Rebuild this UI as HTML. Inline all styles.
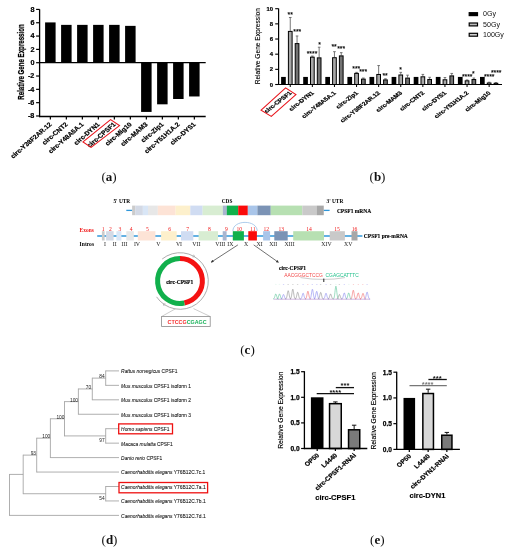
<!DOCTYPE html>
<html><head><meta charset="utf-8"><title>Figure</title>
<style>html,body{margin:0;padding:0;background:#fff;} svg{display:block;}</style></head>
<body><svg width="514" height="550" viewBox="0 0 514 550">
<rect width="514" height="550" fill="#fff"/>
<line x1="39.60" y1="9.30" x2="39.60" y2="117.10" stroke="#000" stroke-width="1.3" />
<line x1="36.10" y1="115.98" x2="39.60" y2="115.98" stroke="#000" stroke-width="1.2" />
<text transform="translate(34.40,118.38) scale(1.15,1)" font-family='"Liberation Sans", Arial, sans-serif' font-size="6.3" font-weight="bold" text-anchor="end" stroke="#000" stroke-width="0.2">-8</text>
<line x1="36.10" y1="102.66" x2="39.60" y2="102.66" stroke="#000" stroke-width="1.2" />
<text transform="translate(34.40,105.06) scale(1.15,1)" font-family='"Liberation Sans", Arial, sans-serif' font-size="6.3" font-weight="bold" text-anchor="end" stroke="#000" stroke-width="0.2">-6</text>
<line x1="36.10" y1="89.34" x2="39.60" y2="89.34" stroke="#000" stroke-width="1.2" />
<text transform="translate(34.40,91.74) scale(1.15,1)" font-family='"Liberation Sans", Arial, sans-serif' font-size="6.3" font-weight="bold" text-anchor="end" stroke="#000" stroke-width="0.2">-4</text>
<line x1="36.10" y1="76.02" x2="39.60" y2="76.02" stroke="#000" stroke-width="1.2" />
<text transform="translate(34.40,78.42) scale(1.15,1)" font-family='"Liberation Sans", Arial, sans-serif' font-size="6.3" font-weight="bold" text-anchor="end" stroke="#000" stroke-width="0.2">-2</text>
<line x1="36.10" y1="62.70" x2="39.60" y2="62.70" stroke="#000" stroke-width="1.2" />
<text transform="translate(34.40,65.10) scale(1.15,1)" font-family='"Liberation Sans", Arial, sans-serif' font-size="6.3" font-weight="bold" text-anchor="end" stroke="#000" stroke-width="0.2">0</text>
<line x1="36.10" y1="49.38" x2="39.60" y2="49.38" stroke="#000" stroke-width="1.2" />
<text transform="translate(34.40,51.78) scale(1.15,1)" font-family='"Liberation Sans", Arial, sans-serif' font-size="6.3" font-weight="bold" text-anchor="end" stroke="#000" stroke-width="0.2">2</text>
<line x1="36.10" y1="36.06" x2="39.60" y2="36.06" stroke="#000" stroke-width="1.2" />
<text transform="translate(34.40,38.46) scale(1.15,1)" font-family='"Liberation Sans", Arial, sans-serif' font-size="6.3" font-weight="bold" text-anchor="end" stroke="#000" stroke-width="0.2">4</text>
<line x1="36.10" y1="22.74" x2="39.60" y2="22.74" stroke="#000" stroke-width="1.2" />
<text transform="translate(34.40,25.14) scale(1.15,1)" font-family='"Liberation Sans", Arial, sans-serif' font-size="6.3" font-weight="bold" text-anchor="end" stroke="#000" stroke-width="0.2">6</text>
<line x1="36.10" y1="9.42" x2="39.60" y2="9.42" stroke="#000" stroke-width="1.2" />
<text transform="translate(34.40,11.82) scale(1.15,1)" font-family='"Liberation Sans", Arial, sans-serif' font-size="6.3" font-weight="bold" text-anchor="end" stroke="#000" stroke-width="0.2">8</text>
<line x1="39.60" y1="62.70" x2="205.70" y2="62.70" stroke="#000" stroke-width="1.3" />
<line x1="39.00" y1="116.50" x2="205.70" y2="116.50" stroke="#000" stroke-width="1.3" />
<rect x="45.10" y="22.41" width="10.50" height="40.29" fill="#000" stroke="none" stroke-width="0" />
<line x1="50.35" y1="116.50" x2="50.35" y2="119.50" stroke="#000" stroke-width="1.2" />
<g transform="translate(52.25,124.80) scale(1.15,1) rotate(-45)"><text x="0" y="0" font-family='"Liberation Sans", Arial, sans-serif' font-size="6.1" font-weight="bold" text-anchor="end" stroke="#000" stroke-width="0.2">circ-Y38F2AR.12</text></g>
<rect x="61.10" y="24.87" width="10.50" height="37.83" fill="#000" stroke="none" stroke-width="0" />
<line x1="66.35" y1="116.50" x2="66.35" y2="119.50" stroke="#000" stroke-width="1.2" />
<g transform="translate(68.25,124.80) scale(1.15,1) rotate(-45)"><text x="0" y="0" font-family='"Liberation Sans", Arial, sans-serif' font-size="6.1" font-weight="bold" text-anchor="end" stroke="#000" stroke-width="0.2">circ-CNT2</text></g>
<rect x="77.10" y="24.87" width="10.50" height="37.83" fill="#000" stroke="none" stroke-width="0" />
<line x1="82.35" y1="116.50" x2="82.35" y2="119.50" stroke="#000" stroke-width="1.2" />
<g transform="translate(84.25,124.80) scale(1.15,1) rotate(-45)"><text x="0" y="0" font-family='"Liberation Sans", Arial, sans-serif' font-size="6.1" font-weight="bold" text-anchor="end" stroke="#000" stroke-width="0.2">circ-Y48A5A.1</text></g>
<rect x="93.10" y="24.87" width="10.50" height="37.83" fill="#000" stroke="none" stroke-width="0" />
<line x1="98.35" y1="116.50" x2="98.35" y2="119.50" stroke="#000" stroke-width="1.2" />
<g transform="translate(100.25,124.80) scale(1.15,1) rotate(-45)"><text x="0" y="0" font-family='"Liberation Sans", Arial, sans-serif' font-size="6.1" font-weight="bold" text-anchor="end" stroke="#000" stroke-width="0.2">circ-DYN1</text></g>
<rect x="109.10" y="24.87" width="10.50" height="37.83" fill="#000" stroke="none" stroke-width="0" />
<line x1="114.35" y1="116.50" x2="114.35" y2="119.50" stroke="#000" stroke-width="1.2" />
<g transform="translate(116.25,124.80) scale(1.15,1) rotate(-45)"><text x="0" y="0" font-family='"Liberation Sans", Arial, sans-serif' font-size="6.1" font-weight="bold" text-anchor="end" stroke="#000" stroke-width="0.2">circ-CPSF1</text></g>
<rect x="125.10" y="25.87" width="10.50" height="36.83" fill="#000" stroke="none" stroke-width="0" />
<line x1="130.35" y1="116.50" x2="130.35" y2="119.50" stroke="#000" stroke-width="1.2" />
<g transform="translate(132.25,124.80) scale(1.15,1) rotate(-45)"><text x="0" y="0" font-family='"Liberation Sans", Arial, sans-serif' font-size="6.1" font-weight="bold" text-anchor="end" stroke="#000" stroke-width="0.2">circ-Mig10</text></g>
<rect x="141.10" y="62.70" width="10.50" height="49.22" fill="#000" stroke="none" stroke-width="0" />
<line x1="146.35" y1="116.50" x2="146.35" y2="119.50" stroke="#000" stroke-width="1.2" />
<g transform="translate(148.25,124.80) scale(1.15,1) rotate(-45)"><text x="0" y="0" font-family='"Liberation Sans", Arial, sans-serif' font-size="6.1" font-weight="bold" text-anchor="end" stroke="#000" stroke-width="0.2">circ-MAM3</text></g>
<rect x="157.10" y="62.70" width="10.50" height="41.62" fill="#000" stroke="none" stroke-width="0" />
<line x1="162.35" y1="116.50" x2="162.35" y2="119.50" stroke="#000" stroke-width="1.2" />
<g transform="translate(164.25,124.80) scale(1.15,1) rotate(-45)"><text x="0" y="0" font-family='"Liberation Sans", Arial, sans-serif' font-size="6.1" font-weight="bold" text-anchor="end" stroke="#000" stroke-width="0.2">circ-Zip1</text></g>
<rect x="173.10" y="62.70" width="10.50" height="36.30" fill="#000" stroke="none" stroke-width="0" />
<line x1="178.35" y1="116.50" x2="178.35" y2="119.50" stroke="#000" stroke-width="1.2" />
<g transform="translate(180.25,124.80) scale(1.15,1) rotate(-45)"><text x="0" y="0" font-family='"Liberation Sans", Arial, sans-serif' font-size="6.1" font-weight="bold" text-anchor="end" stroke="#000" stroke-width="0.2">circ-Y51H1A.2</text></g>
<rect x="189.10" y="62.70" width="10.50" height="33.77" fill="#000" stroke="none" stroke-width="0" />
<line x1="194.35" y1="116.50" x2="194.35" y2="119.50" stroke="#000" stroke-width="1.2" />
<g transform="translate(196.25,124.80) scale(1.15,1) rotate(-45)"><text x="0" y="0" font-family='"Liberation Sans", Arial, sans-serif' font-size="6.1" font-weight="bold" text-anchor="end" stroke="#000" stroke-width="0.2">circ-DYS1</text></g>
<polygon points="83,141.9 110.6,119.6 119.5,125.6 91.1,147.4" fill="none" stroke="#e8141b" stroke-width="1.1"/>
<text transform="translate(24.3,62) scale(1.35,1) rotate(-90)" font-family='"Liberation Sans", Arial, sans-serif' font-size="6.15" font-weight="bold" text-anchor="middle" stroke="#000" stroke-width="0.2">Relative Gene Expression</text>
<text x="109.00" y="181.30" font-family='"Liberation Serif", "Times New Roman", serif' font-size="13" text-anchor="middle" fill="#111">(<tspan font-weight="bold">a</tspan>)</text>
<line x1="278.60" y1="8.60" x2="278.60" y2="85.10" stroke="#000" stroke-width="1.2" />
<line x1="275.20" y1="84.50" x2="278.60" y2="84.50" stroke="#000" stroke-width="1.1" />
<text x="273.00" y="86.60" font-family='"Liberation Sans", Arial, sans-serif' font-size="5.9" font-weight="bold" font-style="normal" fill="#000" text-anchor="end" stroke="#000" stroke-width="0.2" >0</text>
<line x1="275.20" y1="69.34" x2="278.60" y2="69.34" stroke="#000" stroke-width="1.1" />
<text x="273.00" y="71.44" font-family='"Liberation Sans", Arial, sans-serif' font-size="5.9" font-weight="bold" font-style="normal" fill="#000" text-anchor="end" stroke="#000" stroke-width="0.2" >2</text>
<line x1="275.20" y1="54.18" x2="278.60" y2="54.18" stroke="#000" stroke-width="1.1" />
<text x="273.00" y="56.28" font-family='"Liberation Sans", Arial, sans-serif' font-size="5.9" font-weight="bold" font-style="normal" fill="#000" text-anchor="end" stroke="#000" stroke-width="0.2" >4</text>
<line x1="275.20" y1="39.02" x2="278.60" y2="39.02" stroke="#000" stroke-width="1.1" />
<text x="273.00" y="41.12" font-family='"Liberation Sans", Arial, sans-serif' font-size="5.9" font-weight="bold" font-style="normal" fill="#000" text-anchor="end" stroke="#000" stroke-width="0.2" >6</text>
<line x1="275.20" y1="23.86" x2="278.60" y2="23.86" stroke="#000" stroke-width="1.1" />
<text x="273.00" y="25.96" font-family='"Liberation Sans", Arial, sans-serif' font-size="5.9" font-weight="bold" font-style="normal" fill="#000" text-anchor="end" stroke="#000" stroke-width="0.2" >8</text>
<line x1="275.20" y1="8.70" x2="278.60" y2="8.70" stroke="#000" stroke-width="1.1" />
<text x="273.00" y="10.80" font-family='"Liberation Sans", Arial, sans-serif' font-size="5.9" font-weight="bold" font-style="normal" fill="#000" text-anchor="end" stroke="#000" stroke-width="0.2" >10</text>
<line x1="278.00" y1="84.50" x2="502.00" y2="84.50" stroke="#000" stroke-width="1.2" />
<rect x="281.10" y="76.92" width="4.70" height="7.58" fill="#000" stroke="none" stroke-width="0" />
<line x1="290.25" y1="30.91" x2="290.25" y2="17.49" stroke="#666" stroke-width="0.9" />
<line x1="288.95" y1="17.49" x2="291.55" y2="17.49" stroke="#666" stroke-width="0.9" />
<rect x="288.40" y="31.41" width="3.70" height="53.09" fill="#a8a8a8" stroke="#000" stroke-width="1.0" />
<line x1="297.05" y1="43.11" x2="297.05" y2="35.99" stroke="#666" stroke-width="0.9" />
<line x1="295.75" y1="35.99" x2="298.35" y2="35.99" stroke="#666" stroke-width="0.9" />
<rect x="295.20" y="43.61" width="3.70" height="40.89" fill="#737373" stroke="#000" stroke-width="1.0" />
<line x1="290.25" y1="84.50" x2="290.25" y2="87.00" stroke="#000" stroke-width="1.0" />
<g transform="translate(292.25,93.30) scale(1.28,1) rotate(-45)"><text x="0" y="0" font-family='"Liberation Sans", Arial, sans-serif' font-size="5.3" font-weight="bold" text-anchor="end" stroke="#000" stroke-width="0.2">circ-CPSF1</text></g>
<rect x="303.20" y="76.92" width="4.70" height="7.58" fill="#000" stroke="none" stroke-width="0" />
<line x1="312.35" y1="56.68" x2="312.35" y2="56.08" stroke="#666" stroke-width="0.9" />
<line x1="311.05" y1="56.08" x2="313.65" y2="56.08" stroke="#666" stroke-width="0.9" />
<rect x="310.50" y="57.18" width="3.70" height="27.32" fill="#a8a8a8" stroke="#000" stroke-width="1.0" />
<line x1="319.15" y1="57.36" x2="319.15" y2="47.21" stroke="#666" stroke-width="0.9" />
<line x1="317.85" y1="47.21" x2="320.45" y2="47.21" stroke="#666" stroke-width="0.9" />
<rect x="317.30" y="57.86" width="3.70" height="26.64" fill="#737373" stroke="#000" stroke-width="1.0" />
<line x1="312.35" y1="84.50" x2="312.35" y2="87.00" stroke="#000" stroke-width="1.0" />
<g transform="translate(314.35,93.30) scale(1.28,1) rotate(-45)"><text x="0" y="0" font-family='"Liberation Sans", Arial, sans-serif' font-size="5.3" font-weight="bold" text-anchor="end" stroke="#000" stroke-width="0.2">circ-DYN1</text></g>
<rect x="325.30" y="76.92" width="4.70" height="7.58" fill="#000" stroke="none" stroke-width="0" />
<line x1="334.45" y1="57.21" x2="334.45" y2="51.68" stroke="#666" stroke-width="0.9" />
<line x1="333.15" y1="51.68" x2="335.75" y2="51.68" stroke="#666" stroke-width="0.9" />
<rect x="332.60" y="57.71" width="3.70" height="26.79" fill="#a8a8a8" stroke="#000" stroke-width="1.0" />
<line x1="341.25" y1="55.39" x2="341.25" y2="52.66" stroke="#666" stroke-width="0.9" />
<line x1="339.95" y1="52.66" x2="342.55" y2="52.66" stroke="#666" stroke-width="0.9" />
<rect x="339.40" y="55.89" width="3.70" height="28.61" fill="#737373" stroke="#000" stroke-width="1.0" />
<line x1="334.45" y1="84.50" x2="334.45" y2="87.00" stroke="#000" stroke-width="1.0" />
<g transform="translate(336.45,93.30) scale(1.28,1) rotate(-45)"><text x="0" y="0" font-family='"Liberation Sans", Arial, sans-serif' font-size="5.3" font-weight="bold" text-anchor="end" stroke="#000" stroke-width="0.2">circ-Y48A5A.1</text></g>
<rect x="347.40" y="76.92" width="4.70" height="7.58" fill="#000" stroke="none" stroke-width="0" />
<line x1="356.55" y1="72.90" x2="356.55" y2="72.37" stroke="#666" stroke-width="0.9" />
<line x1="355.25" y1="72.37" x2="357.85" y2="72.37" stroke="#666" stroke-width="0.9" />
<rect x="354.70" y="73.40" width="3.70" height="11.10" fill="#a8a8a8" stroke="#000" stroke-width="1.0" />
<line x1="363.35" y1="78.66" x2="363.35" y2="78.06" stroke="#666" stroke-width="0.9" />
<line x1="362.05" y1="78.06" x2="364.65" y2="78.06" stroke="#666" stroke-width="0.9" />
<rect x="361.50" y="79.16" width="3.70" height="5.34" fill="#737373" stroke="#000" stroke-width="1.0" />
<line x1="356.55" y1="84.50" x2="356.55" y2="87.00" stroke="#000" stroke-width="1.0" />
<g transform="translate(358.55,93.30) scale(1.28,1) rotate(-45)"><text x="0" y="0" font-family='"Liberation Sans", Arial, sans-serif' font-size="5.3" font-weight="bold" text-anchor="end" stroke="#000" stroke-width="0.2">circ-Zip1</text></g>
<rect x="369.50" y="76.92" width="4.70" height="7.58" fill="#000" stroke="none" stroke-width="0" />
<line x1="378.65" y1="73.96" x2="378.65" y2="65.55" stroke="#666" stroke-width="0.9" />
<line x1="377.35" y1="65.55" x2="379.95" y2="65.55" stroke="#666" stroke-width="0.9" />
<rect x="376.80" y="74.46" width="3.70" height="10.04" fill="#a8a8a8" stroke="#000" stroke-width="1.0" />
<line x1="385.45" y1="79.42" x2="385.45" y2="78.81" stroke="#666" stroke-width="0.9" />
<line x1="384.15" y1="78.81" x2="386.75" y2="78.81" stroke="#666" stroke-width="0.9" />
<rect x="383.60" y="79.92" width="3.70" height="4.58" fill="#737373" stroke="#000" stroke-width="1.0" />
<line x1="378.65" y1="84.50" x2="378.65" y2="87.00" stroke="#000" stroke-width="1.0" />
<g transform="translate(380.65,93.30) scale(1.28,1) rotate(-45)"><text x="0" y="0" font-family='"Liberation Sans", Arial, sans-serif' font-size="5.3" font-weight="bold" text-anchor="end" stroke="#000" stroke-width="0.2">circ-Y38F2AR.12</text></g>
<rect x="391.60" y="76.92" width="4.70" height="7.58" fill="#000" stroke="none" stroke-width="0" />
<line x1="400.75" y1="74.49" x2="400.75" y2="72.37" stroke="#666" stroke-width="0.9" />
<line x1="399.45" y1="72.37" x2="402.05" y2="72.37" stroke="#666" stroke-width="0.9" />
<rect x="398.90" y="74.99" width="3.70" height="9.51" fill="#a8a8a8" stroke="#000" stroke-width="1.0" />
<line x1="407.55" y1="77.60" x2="407.55" y2="75.18" stroke="#666" stroke-width="0.9" />
<line x1="406.25" y1="75.18" x2="408.85" y2="75.18" stroke="#666" stroke-width="0.9" />
<rect x="405.70" y="78.10" width="3.70" height="6.40" fill="#737373" stroke="#000" stroke-width="1.0" />
<line x1="400.75" y1="84.50" x2="400.75" y2="87.00" stroke="#000" stroke-width="1.0" />
<g transform="translate(402.75,93.30) scale(1.28,1) rotate(-45)"><text x="0" y="0" font-family='"Liberation Sans", Arial, sans-serif' font-size="5.3" font-weight="bold" text-anchor="end" stroke="#000" stroke-width="0.2">circ-MAM3</text></g>
<rect x="413.70" y="76.92" width="4.70" height="7.58" fill="#000" stroke="none" stroke-width="0" />
<line x1="422.85" y1="76.31" x2="422.85" y2="74.42" stroke="#666" stroke-width="0.9" />
<line x1="421.55" y1="74.42" x2="424.15" y2="74.42" stroke="#666" stroke-width="0.9" />
<rect x="421.00" y="76.81" width="3.70" height="7.69" fill="#a8a8a8" stroke="#000" stroke-width="1.0" />
<line x1="429.65" y1="78.97" x2="429.65" y2="77.30" stroke="#666" stroke-width="0.9" />
<line x1="428.35" y1="77.30" x2="430.95" y2="77.30" stroke="#666" stroke-width="0.9" />
<rect x="427.80" y="79.47" width="3.70" height="5.03" fill="#737373" stroke="#000" stroke-width="1.0" />
<line x1="422.85" y1="84.50" x2="422.85" y2="87.00" stroke="#000" stroke-width="1.0" />
<g transform="translate(424.85,93.30) scale(1.28,1) rotate(-45)"><text x="0" y="0" font-family='"Liberation Sans", Arial, sans-serif' font-size="5.3" font-weight="bold" text-anchor="end" stroke="#000" stroke-width="0.2">circ-CNT2</text></g>
<rect x="435.80" y="76.92" width="4.70" height="7.58" fill="#000" stroke="none" stroke-width="0" />
<line x1="444.95" y1="79.27" x2="444.95" y2="77.53" stroke="#666" stroke-width="0.9" />
<line x1="443.65" y1="77.53" x2="446.25" y2="77.53" stroke="#666" stroke-width="0.9" />
<rect x="443.10" y="79.77" width="3.70" height="4.73" fill="#a8a8a8" stroke="#000" stroke-width="1.0" />
<line x1="451.75" y1="75.40" x2="451.75" y2="73.43" stroke="#666" stroke-width="0.9" />
<line x1="450.45" y1="73.43" x2="453.05" y2="73.43" stroke="#666" stroke-width="0.9" />
<rect x="449.90" y="75.90" width="3.70" height="8.60" fill="#737373" stroke="#000" stroke-width="1.0" />
<line x1="444.95" y1="84.50" x2="444.95" y2="87.00" stroke="#000" stroke-width="1.0" />
<g transform="translate(446.95,93.30) scale(1.28,1) rotate(-45)"><text x="0" y="0" font-family='"Liberation Sans", Arial, sans-serif' font-size="5.3" font-weight="bold" text-anchor="end" stroke="#000" stroke-width="0.2">circ-DYS1</text></g>
<rect x="457.90" y="76.92" width="4.70" height="7.58" fill="#000" stroke="none" stroke-width="0" />
<line x1="467.05" y1="80.33" x2="467.05" y2="79.95" stroke="#666" stroke-width="0.9" />
<line x1="465.75" y1="79.95" x2="468.35" y2="79.95" stroke="#666" stroke-width="0.9" />
<rect x="465.20" y="80.83" width="3.70" height="3.67" fill="#a8a8a8" stroke="#000" stroke-width="1.0" />
<line x1="473.85" y1="79.04" x2="473.85" y2="78.06" stroke="#666" stroke-width="0.9" />
<line x1="472.55" y1="78.06" x2="475.15" y2="78.06" stroke="#666" stroke-width="0.9" />
<rect x="472.00" y="79.54" width="3.70" height="4.96" fill="#737373" stroke="#000" stroke-width="1.0" />
<line x1="467.05" y1="84.50" x2="467.05" y2="87.00" stroke="#000" stroke-width="1.0" />
<g transform="translate(469.05,93.30) scale(1.28,1) rotate(-45)"><text x="0" y="0" font-family='"Liberation Sans", Arial, sans-serif' font-size="5.3" font-weight="bold" text-anchor="end" stroke="#000" stroke-width="0.2">circ-Y51H1A.2</text></g>
<rect x="480.00" y="76.92" width="4.70" height="7.58" fill="#000" stroke="none" stroke-width="0" />
<line x1="489.15" y1="82.53" x2="489.15" y2="82.23" stroke="#666" stroke-width="0.9" />
<line x1="487.85" y1="82.23" x2="490.45" y2="82.23" stroke="#666" stroke-width="0.9" />
<rect x="487.30" y="83.03" width="3.70" height="1.47" fill="#a8a8a8" stroke="#000" stroke-width="1.0" />
<line x1="495.95" y1="82.83" x2="495.95" y2="82.53" stroke="#666" stroke-width="0.9" />
<line x1="494.65" y1="82.53" x2="497.25" y2="82.53" stroke="#666" stroke-width="0.9" />
<rect x="494.10" y="83.33" width="3.70" height="1.17" fill="#737373" stroke="#000" stroke-width="1.0" />
<line x1="489.15" y1="84.50" x2="489.15" y2="87.00" stroke="#000" stroke-width="1.0" />
<g transform="translate(491.15,93.30) scale(1.28,1) rotate(-45)"><text x="0" y="0" font-family='"Liberation Sans", Arial, sans-serif' font-size="5.3" font-weight="bold" text-anchor="end" stroke="#000" stroke-width="0.2">circ-Mig10</text></g>
<polygon points="261.1,110.1 285.6,87.9 295.9,94.6 271.3,116.4" fill="none" stroke="#e8141b" stroke-width="1.1"/>
<text transform="translate(259.9,46.2) rotate(-90)" font-family='"Liberation Sans", Arial, sans-serif' font-size="6.6" text-anchor="middle" stroke="#000" stroke-width="0.12">Relative Gene Expression</text>
<text x="290.20" y="17.40" font-family='"Liberation Sans", Arial, sans-serif' font-size="6.8" font-weight="normal" font-style="normal" fill="#000" text-anchor="middle" stroke="#000" stroke-width="0.15" >**</text>
<text x="297.30" y="34.40" font-family='"Liberation Sans", Arial, sans-serif' font-size="6.8" font-weight="normal" font-style="normal" fill="#000" text-anchor="middle" stroke="#000" stroke-width="0.15" >***</text>
<text x="312.00" y="56.20" font-family='"Liberation Sans", Arial, sans-serif' font-size="6.8" font-weight="normal" font-style="normal" fill="#000" text-anchor="middle" stroke="#000" stroke-width="0.15" >****</text>
<text x="319.50" y="47.00" font-family='"Liberation Sans", Arial, sans-serif' font-size="6.8" font-weight="normal" font-style="normal" fill="#000" text-anchor="middle" stroke="#000" stroke-width="0.15" >*</text>
<text x="334.10" y="48.90" font-family='"Liberation Sans", Arial, sans-serif' font-size="6.8" font-weight="normal" font-style="normal" fill="#000" text-anchor="middle" stroke="#000" stroke-width="0.15" >**</text>
<text x="341.10" y="51.10" font-family='"Liberation Sans", Arial, sans-serif' font-size="6.8" font-weight="normal" font-style="normal" fill="#000" text-anchor="middle" stroke="#000" stroke-width="0.15" >***</text>
<text x="356.30" y="71.30" font-family='"Liberation Sans", Arial, sans-serif' font-size="6.8" font-weight="normal" font-style="normal" fill="#000" text-anchor="middle" stroke="#000" stroke-width="0.15" >***</text>
<text x="363.10" y="73.60" font-family='"Liberation Sans", Arial, sans-serif' font-size="6.8" font-weight="normal" font-style="normal" fill="#000" text-anchor="middle" stroke="#000" stroke-width="0.15" >***</text>
<text x="385.10" y="78.00" font-family='"Liberation Sans", Arial, sans-serif' font-size="6.8" font-weight="normal" font-style="normal" fill="#000" text-anchor="middle" stroke="#000" stroke-width="0.15" >**</text>
<text x="400.70" y="72.20" font-family='"Liberation Sans", Arial, sans-serif' font-size="6.8" font-weight="normal" font-style="normal" fill="#000" text-anchor="middle" stroke="#000" stroke-width="0.15" >*</text>
<text x="467.20" y="78.90" font-family='"Liberation Sans", Arial, sans-serif' font-size="6.8" font-weight="normal" font-style="normal" fill="#000" text-anchor="middle" stroke="#000" stroke-width="0.15" >****</text>
<text x="473.30" y="76.00" font-family='"Liberation Sans", Arial, sans-serif' font-size="6.8" font-weight="normal" font-style="normal" fill="#000" text-anchor="middle" stroke="#000" stroke-width="0.15" >*</text>
<text x="489.20" y="78.60" font-family='"Liberation Sans", Arial, sans-serif' font-size="6.8" font-weight="normal" font-style="normal" fill="#000" text-anchor="middle" stroke="#000" stroke-width="0.15" >****</text>
<text x="496.20" y="75.30" font-family='"Liberation Sans", Arial, sans-serif' font-size="6.8" font-weight="normal" font-style="normal" fill="#000" text-anchor="middle" stroke="#000" stroke-width="0.15" >****</text>
<rect x="469.20" y="12.70" width="8.30" height="2.90" fill="#000" stroke="#000" stroke-width="1.2" />
<text x="483.00" y="16.20" font-family='"Liberation Sans", Arial, sans-serif' font-size="7.1" font-weight="normal" font-style="normal" fill="#111" text-anchor="start" >0Gy</text>
<rect x="469.20" y="23.00" width="8.30" height="2.90" fill="#bbbbbb" stroke="#000" stroke-width="1.2" />
<text x="483.00" y="26.50" font-family='"Liberation Sans", Arial, sans-serif' font-size="7.1" font-weight="normal" font-style="normal" fill="#111" text-anchor="start" >50Gy</text>
<rect x="469.20" y="33.30" width="8.30" height="2.90" fill="#d0d0d0" stroke="#000" stroke-width="1.2" />
<text x="483.00" y="36.80" font-family='"Liberation Sans", Arial, sans-serif' font-size="7.1" font-weight="normal" font-style="normal" fill="#111" text-anchor="start" >100Gy</text>
<text x="377.50" y="181.30" font-family='"Liberation Serif", "Times New Roman", serif' font-size="13" text-anchor="middle" fill="#111">(<tspan font-weight="bold">b</tspan>)</text>
<text x="113.40" y="202.90" font-family='"Liberation Serif", "Times New Roman", serif' font-size="5.35" font-weight="bold" font-style="normal" fill="#000" text-anchor="start" >5' UTR</text>
<text x="221.80" y="202.90" font-family='"Liberation Serif", "Times New Roman", serif' font-size="5.3" font-weight="bold" font-style="normal" fill="#000" text-anchor="start" >CDS</text>
<text x="326.50" y="202.90" font-family='"Liberation Serif", "Times New Roman", serif' font-size="5.35" font-weight="bold" font-style="normal" fill="#000" text-anchor="start" >3' UTR</text>
<text x="336.90" y="212.60" font-family='"Liberation Serif", "Times New Roman", serif' font-size="5.5" font-weight="bold" font-style="normal" fill="#000" text-anchor="start" stroke="#000" stroke-width="0.12" >CPSF1 mRNA</text>
<line x1="126.30" y1="210.40" x2="132.20" y2="210.40" stroke="#2f97da" stroke-width="1.3" />
<line x1="323.60" y1="210.40" x2="329.60" y2="210.40" stroke="#2f97da" stroke-width="1.3" />
<rect x="132.10" y="205.60" width="3.25" height="9.60" fill="#cbcbcb" stroke="none" stroke-width="0" />
<rect x="135.30" y="205.60" width="7.55" height="9.60" fill="#d3d9e5" stroke="none" stroke-width="0" />
<rect x="142.80" y="205.60" width="5.25" height="9.60" fill="#d9e6f6" stroke="none" stroke-width="0" />
<rect x="148.00" y="205.60" width="9.85" height="9.60" fill="#e7e7e7" stroke="none" stroke-width="0" />
<rect x="157.80" y="205.60" width="17.75" height="9.60" fill="#fde3d6" stroke="none" stroke-width="0" />
<rect x="175.50" y="205.60" width="14.85" height="9.60" fill="#fdf0cc" stroke="none" stroke-width="0" />
<rect x="190.30" y="205.60" width="12.35" height="9.60" fill="#d0dcf2" stroke="none" stroke-width="0" />
<rect x="202.60" y="205.60" width="20.35" height="9.60" fill="#d8edd2" stroke="none" stroke-width="0" />
<rect x="222.90" y="205.60" width="3.95" height="9.60" fill="#a9b5cf" stroke="none" stroke-width="0" />
<rect x="226.80" y="205.60" width="11.45" height="9.60" fill="#12b04b" stroke="none" stroke-width="0" />
<rect x="238.20" y="205.60" width="9.65" height="9.60" fill="#fa0a0a" stroke="none" stroke-width="0" />
<rect x="247.80" y="205.60" width="9.65" height="9.60" fill="#a9c5e9" stroke="none" stroke-width="0" />
<rect x="257.40" y="205.60" width="13.35" height="9.60" fill="#7b93b5" stroke="none" stroke-width="0" />
<rect x="270.70" y="205.60" width="31.65" height="9.60" fill="#b7e0b2" stroke="none" stroke-width="0" />
<rect x="302.30" y="205.60" width="14.55" height="9.60" fill="#c9c9c9" stroke="none" stroke-width="0" />
<rect x="316.80" y="205.60" width="6.95" height="9.60" fill="#a7a7a7" stroke="none" stroke-width="0" />
<text x="79.60" y="231.60" font-family='"Liberation Serif", "Times New Roman", serif' font-size="6.0" font-weight="bold" font-style="normal" fill="#f01818" text-anchor="start" textLength="14.2" lengthAdjust="spacingAndGlyphs">Exons</text>
<text x="79.60" y="246.10" font-family='"Liberation Serif", "Times New Roman", serif' font-size="6.0" font-weight="bold" font-style="normal" fill="#000" text-anchor="start" textLength="14.5" lengthAdjust="spacingAndGlyphs">Intros</text>
<line x1="97.20" y1="236.00" x2="362.40" y2="236.00" stroke="#2f97da" stroke-width="1.7" />
<rect x="101.90" y="231.20" width="2.70" height="9.30" fill="#cbcbcb" stroke="none" stroke-width="0" />
<rect x="106.10" y="231.20" width="7.50" height="9.30" fill="#d3d9e5" stroke="none" stroke-width="0" />
<rect x="116.40" y="231.20" width="5.00" height="9.30" fill="#d9e6f6" stroke="none" stroke-width="0" />
<rect x="126.30" y="231.20" width="7.50" height="9.30" fill="#e7e7e7" stroke="none" stroke-width="0" />
<rect x="137.80" y="231.20" width="17.60" height="9.30" fill="#fde3d6" stroke="none" stroke-width="0" />
<rect x="161.10" y="231.20" width="15.60" height="9.30" fill="#fdf0cc" stroke="none" stroke-width="0" />
<rect x="181.00" y="231.20" width="12.30" height="9.30" fill="#d0dcf2" stroke="none" stroke-width="0" />
<rect x="198.60" y="231.20" width="19.40" height="9.30" fill="#d8edd2" stroke="none" stroke-width="0" />
<rect x="222.70" y="231.20" width="3.90" height="9.30" fill="#a9b5cf" stroke="none" stroke-width="0" />
<rect x="232.80" y="231.20" width="11.10" height="9.30" fill="#12b04b" stroke="none" stroke-width="0" />
<rect x="248.30" y="231.20" width="8.60" height="9.30" fill="#fa0a0a" stroke="none" stroke-width="0" />
<rect x="263.10" y="231.20" width="7.00" height="9.30" fill="#a9c5e9" stroke="none" stroke-width="0" />
<rect x="274.30" y="231.20" width="13.40" height="9.30" fill="#7b93b5" stroke="none" stroke-width="0" />
<rect x="293.20" y="231.20" width="30.80" height="9.30" fill="#b7e0b2" stroke="none" stroke-width="0" />
<rect x="329.70" y="231.20" width="15.20" height="9.30" fill="#c9c9c9" stroke="none" stroke-width="0" />
<rect x="351.50" y="231.20" width="6.00" height="9.30" fill="#a7a7a7" stroke="none" stroke-width="0" />
<text x="103.20" y="231.00" font-family='"Liberation Serif", "Times New Roman", serif' font-size="5.6" font-weight="normal" font-style="normal" fill="#f01818" text-anchor="middle" >1</text>
<text x="110.50" y="231.00" font-family='"Liberation Serif", "Times New Roman", serif' font-size="5.6" font-weight="normal" font-style="normal" fill="#f01818" text-anchor="middle" >2</text>
<text x="119.80" y="231.00" font-family='"Liberation Serif", "Times New Roman", serif' font-size="5.6" font-weight="normal" font-style="normal" fill="#f01818" text-anchor="middle" >3</text>
<text x="131.20" y="231.00" font-family='"Liberation Serif", "Times New Roman", serif' font-size="5.6" font-weight="normal" font-style="normal" fill="#f01818" text-anchor="middle" >4</text>
<text x="147.40" y="231.00" font-family='"Liberation Serif", "Times New Roman", serif' font-size="5.6" font-weight="normal" font-style="normal" fill="#f01818" text-anchor="middle" >5</text>
<text x="169.70" y="231.00" font-family='"Liberation Serif", "Times New Roman", serif' font-size="5.6" font-weight="normal" font-style="normal" fill="#f01818" text-anchor="middle" >6</text>
<text x="187.60" y="231.00" font-family='"Liberation Serif", "Times New Roman", serif' font-size="5.6" font-weight="normal" font-style="normal" fill="#f01818" text-anchor="middle" >7</text>
<text x="209.50" y="231.00" font-family='"Liberation Serif", "Times New Roman", serif' font-size="5.6" font-weight="normal" font-style="normal" fill="#f01818" text-anchor="middle" >8</text>
<text x="226.30" y="231.00" font-family='"Liberation Serif", "Times New Roman", serif' font-size="5.6" font-weight="normal" font-style="normal" fill="#f01818" text-anchor="middle" >9</text>
<text x="239.20" y="231.00" font-family='"Liberation Serif", "Times New Roman", serif' font-size="5.6" font-weight="normal" font-style="normal" fill="#f01818" text-anchor="middle" >10</text>
<text x="252.80" y="231.00" font-family='"Liberation Serif", "Times New Roman", serif' font-size="5.6" font-weight="normal" font-style="normal" fill="#f01818" text-anchor="middle" >11</text>
<text x="266.30" y="231.00" font-family='"Liberation Serif", "Times New Roman", serif' font-size="5.6" font-weight="normal" font-style="normal" fill="#f01818" text-anchor="middle" >12</text>
<text x="281.30" y="231.00" font-family='"Liberation Serif", "Times New Roman", serif' font-size="5.6" font-weight="normal" font-style="normal" fill="#f01818" text-anchor="middle" >13</text>
<text x="309.00" y="231.00" font-family='"Liberation Serif", "Times New Roman", serif' font-size="5.6" font-weight="normal" font-style="normal" fill="#f01818" text-anchor="middle" >14</text>
<text x="337.00" y="231.00" font-family='"Liberation Serif", "Times New Roman", serif' font-size="5.6" font-weight="normal" font-style="normal" fill="#f01818" text-anchor="middle" >15</text>
<text x="354.60" y="231.00" font-family='"Liberation Serif", "Times New Roman", serif' font-size="5.6" font-weight="normal" font-style="normal" fill="#f01818" text-anchor="middle" >16</text>
<text x="105.00" y="246.30" font-family='"Liberation Serif", "Times New Roman", serif' font-size="5.8" font-weight="normal" font-style="normal" fill="#222" text-anchor="middle" >I</text>
<text x="114.70" y="246.30" font-family='"Liberation Serif", "Times New Roman", serif' font-size="5.8" font-weight="normal" font-style="normal" fill="#222" text-anchor="middle" >II</text>
<text x="124.50" y="246.30" font-family='"Liberation Serif", "Times New Roman", serif' font-size="5.8" font-weight="normal" font-style="normal" fill="#222" text-anchor="middle" >III</text>
<text x="137.00" y="246.30" font-family='"Liberation Serif", "Times New Roman", serif' font-size="5.8" font-weight="normal" font-style="normal" fill="#222" text-anchor="middle" >IV</text>
<text x="158.30" y="246.30" font-family='"Liberation Serif", "Times New Roman", serif' font-size="5.8" font-weight="normal" font-style="normal" fill="#222" text-anchor="middle" >V</text>
<text x="179.00" y="246.30" font-family='"Liberation Serif", "Times New Roman", serif' font-size="5.8" font-weight="normal" font-style="normal" fill="#222" text-anchor="middle" >VI</text>
<text x="196.40" y="246.30" font-family='"Liberation Serif", "Times New Roman", serif' font-size="5.8" font-weight="normal" font-style="normal" fill="#222" text-anchor="middle" >VII</text>
<text x="220.30" y="246.30" font-family='"Liberation Serif", "Times New Roman", serif' font-size="5.8" font-weight="normal" font-style="normal" fill="#222" text-anchor="middle" >VIII</text>
<text x="230.40" y="246.30" font-family='"Liberation Serif", "Times New Roman", serif' font-size="5.8" font-weight="normal" font-style="normal" fill="#222" text-anchor="middle" >IX</text>
<text x="246.20" y="246.30" font-family='"Liberation Serif", "Times New Roman", serif' font-size="5.8" font-weight="normal" font-style="normal" fill="#222" text-anchor="middle" >X</text>
<text x="259.60" y="246.30" font-family='"Liberation Serif", "Times New Roman", serif' font-size="5.8" font-weight="normal" font-style="normal" fill="#222" text-anchor="middle" >XI</text>
<text x="273.20" y="246.30" font-family='"Liberation Serif", "Times New Roman", serif' font-size="5.8" font-weight="normal" font-style="normal" fill="#222" text-anchor="middle" >XII</text>
<text x="289.60" y="246.30" font-family='"Liberation Serif", "Times New Roman", serif' font-size="5.8" font-weight="normal" font-style="normal" fill="#222" text-anchor="middle" >XIII</text>
<text x="326.50" y="246.30" font-family='"Liberation Serif", "Times New Roman", serif' font-size="5.8" font-weight="normal" font-style="normal" fill="#222" text-anchor="middle" >XIV</text>
<text x="348.20" y="246.30" font-family='"Liberation Serif", "Times New Roman", serif' font-size="5.8" font-weight="normal" font-style="normal" fill="#222" text-anchor="middle" >XV</text>
<text x="363.80" y="237.60" font-family='"Liberation Serif", "Times New Roman", serif' font-size="5.5" font-weight="bold" font-style="normal" fill="#000" text-anchor="start" stroke="#000" stroke-width="0.12" >CPSF1 pre-mRNA</text>
<path d="M232.9,231 C232.9,219.5 257.2,219.5 257.2,231" fill="none" stroke="#92bbe4" stroke-width="0.75"/>
<defs><marker id="ah" viewBox="0 0 6 6" refX="5" refY="3" markerWidth="4" markerHeight="4" orient="auto"><path d="M0,0 L6,3 L0,6 z" fill="#333"/></marker></defs>
<line x1="237.9" y1="244.9" x2="211.2" y2="262.2" stroke="#333" stroke-width="0.7" marker-end="url(#ah)"/>
<line x1="253.7" y1="244.9" x2="278.4" y2="262.3" stroke="#333" stroke-width="0.7" marker-end="url(#ah)"/>
<path d="M180.00,258.60 A22.4,22.4 0 0 1 184.35,302.97" fill="none" stroke="#f41212" stroke-width="5.0" />
<path d="M184.35,302.97 A22.4,22.4 0 1 1 180.00,258.60" fill="none" stroke="#11b04c" stroke-width="5.0" />
<defs><marker id="ag" viewBox="0 0 6 6" refX="4" refY="3" markerWidth="4" markerHeight="4" orient="auto"><path d="M0,0 L6,3 L0,6" fill="none" stroke="#aaa" stroke-width="1"/></marker></defs>
<path d="M162.19,259.01 A28.3,28.3 0 1 1 156.54,296.83" fill="none" stroke="#a4a4a4" stroke-width="0.9" />
<path d="M193.68,254.73 L194.58,256.74 L192.38,256.90" fill="none" stroke="#a8a8a8" stroke-width="0.8"/>
<path d="M164.08,305.98 L163.37,303.90 L165.57,303.93" fill="none" stroke="#a8a8a8" stroke-width="0.8"/>
<text x="179.70" y="284.10" font-family='"Liberation Serif", "Times New Roman", serif' font-size="5.5" font-weight="bold" font-style="normal" fill="#000" text-anchor="middle" stroke="#000" stroke-width="0.15" >circ-CPSF1</text>
<line x1="175.40" y1="308.80" x2="162.00" y2="316.30" stroke="#aaa" stroke-width="0.6" />
<line x1="193.50" y1="308.60" x2="209.80" y2="316.30" stroke="#aaa" stroke-width="0.6" />
<rect x="161.60" y="316.50" width="48.60" height="9.90" fill="#fff" stroke="#8a8a8a" stroke-width="0.8" />
<text x="167.6" y="324.0" font-family='"Liberation Sans", Arial, sans-serif' font-size="5.9" font-weight="bold" textLength="39" lengthAdjust="spacingAndGlyphs"><tspan fill="#f52a2a">CTCCG</tspan><tspan fill="#19b15a">CGAGC</tspan></text>
<text x="279.00" y="269.50" font-family='"Liberation Serif", "Times New Roman", serif' font-size="5.5" font-weight="bold" font-style="normal" fill="#000" text-anchor="start" stroke="#000" stroke-width="0.12">circ-CPSF1</text>
<text x="284.2" y="276.8" font-family='"Liberation Sans", Arial, sans-serif' font-size="5.2" fill="#f24848" textLength="38.6" lengthAdjust="spacingAndGlyphs">AACGGGCTCCG</text>
<text x="325.6" y="276.9" font-family='"Liberation Sans", Arial, sans-serif' font-size="5.2" fill="#20c08a" textLength="33.2" lengthAdjust="spacingAndGlyphs">CGAGCATTTC</text>
<path d="M300.5,277.6 Q312,279.6 323.6,279.4 Q334,279.6 345,277.6" fill="none" stroke="#999" stroke-width="0.5"/>
<line x1="323.80" y1="278.60" x2="323.80" y2="282.00" stroke="#222" stroke-width="1.0" />
<text x="275.80" y="285.3" font-family='"Liberation Sans", Arial, sans-serif' font-size="2.2" fill="#3cba84" text-anchor="middle" opacity="0.6">A</text>
<text x="279.50" y="285.3" font-family='"Liberation Sans", Arial, sans-serif' font-size="2.2" fill="#3cba84" text-anchor="middle" opacity="0.6">A</text>
<text x="283.50" y="285.3" font-family='"Liberation Sans", Arial, sans-serif' font-size="2.2" fill="#7070ee" text-anchor="middle" opacity="0.6">C</text>
<text x="288.20" y="285.3" font-family='"Liberation Sans", Arial, sans-serif' font-size="2.2" fill="#777777" text-anchor="middle" opacity="0.6">G</text>
<text x="292.80" y="285.3" font-family='"Liberation Sans", Arial, sans-serif' font-size="2.2" fill="#777777" text-anchor="middle" opacity="0.6">G</text>
<text x="297.70" y="285.3" font-family='"Liberation Sans", Arial, sans-serif' font-size="2.2" fill="#777777" text-anchor="middle" opacity="0.6">G</text>
<text x="303.10" y="285.3" font-family='"Liberation Sans", Arial, sans-serif' font-size="2.2" fill="#7070ee" text-anchor="middle" opacity="0.6">C</text>
<text x="307.90" y="285.3" font-family='"Liberation Sans", Arial, sans-serif' font-size="2.2" fill="#f05050" text-anchor="middle" opacity="0.6">T</text>
<text x="312.40" y="285.3" font-family='"Liberation Sans", Arial, sans-serif' font-size="2.2" fill="#7070ee" text-anchor="middle" opacity="0.6">C</text>
<text x="316.70" y="285.3" font-family='"Liberation Sans", Arial, sans-serif' font-size="2.2" fill="#7070ee" text-anchor="middle" opacity="0.6">C</text>
<text x="320.70" y="285.3" font-family='"Liberation Sans", Arial, sans-serif' font-size="2.2" fill="#777777" text-anchor="middle" opacity="0.6">G</text>
<text x="326.00" y="285.3" font-family='"Liberation Sans", Arial, sans-serif' font-size="2.2" fill="#7070ee" text-anchor="middle" opacity="0.6">C</text>
<text x="330.60" y="285.3" font-family='"Liberation Sans", Arial, sans-serif' font-size="2.2" fill="#777777" text-anchor="middle" opacity="0.6">G</text>
<text x="335.90" y="285.3" font-family='"Liberation Sans", Arial, sans-serif' font-size="2.2" fill="#3cba84" text-anchor="middle" opacity="0.6">A</text>
<text x="339.40" y="285.3" font-family='"Liberation Sans", Arial, sans-serif' font-size="2.2" fill="#777777" text-anchor="middle" opacity="0.6">G</text>
<text x="344.30" y="285.3" font-family='"Liberation Sans", Arial, sans-serif' font-size="2.2" fill="#7070ee" text-anchor="middle" opacity="0.6">C</text>
<text x="348.70" y="285.3" font-family='"Liberation Sans", Arial, sans-serif' font-size="2.2" fill="#3cba84" text-anchor="middle" opacity="0.6">A</text>
<text x="353.30" y="285.3" font-family='"Liberation Sans", Arial, sans-serif' font-size="2.2" fill="#f05050" text-anchor="middle" opacity="0.6">T</text>
<text x="358.20" y="285.3" font-family='"Liberation Sans", Arial, sans-serif' font-size="2.2" fill="#f05050" text-anchor="middle" opacity="0.6">T</text>
<text x="363.00" y="285.3" font-family='"Liberation Sans", Arial, sans-serif' font-size="2.2" fill="#f05050" text-anchor="middle" opacity="0.6">T</text>
<text x="367.10" y="285.3" font-family='"Liberation Sans", Arial, sans-serif' font-size="2.2" fill="#7070ee" text-anchor="middle" opacity="0.6">C</text>
<polyline points="273.00,298.98 273.20,298.95 273.40,298.91 273.60,298.82 273.80,298.69 274.00,298.47 274.20,298.15 274.40,297.71 274.60,297.15 274.80,296.50 275.00,295.79 275.20,295.10 275.40,294.52 275.60,294.14 275.80,294.00 276.00,294.14 276.20,294.52 276.40,295.10 276.60,295.79 276.80,296.50 277.00,297.15 277.20,297.71 277.40,298.15 277.60,298.47 277.80,298.69 278.00,298.82 278.20,298.91 278.40,298.95 278.60,298.98" fill="none" stroke="#3cba84" stroke-width="0.6" opacity="0.85"/>
<polyline points="276.70,298.98 276.90,298.95 277.10,298.91 277.30,298.82 277.50,298.69 277.70,298.47 277.90,298.15 278.10,297.71 278.30,297.15 278.50,296.50 278.70,295.79 278.90,295.10 279.10,294.52 279.30,294.14 279.50,294.00 279.70,294.14 279.90,294.52 280.10,295.10 280.30,295.79 280.50,296.50 280.70,297.15 280.90,297.71 281.10,298.15 281.30,298.47 281.50,298.69 281.70,298.82 281.90,298.91 282.10,298.95 282.30,298.98" fill="none" stroke="#3cba84" stroke-width="0.6" opacity="0.85"/>
<polyline points="280.70,298.98 280.90,298.96 281.10,298.92 281.30,298.84 281.50,298.72 281.70,298.52 281.90,298.23 282.10,297.84 282.30,297.34 282.50,296.75 282.70,296.11 282.90,295.49 283.10,294.97 283.30,294.62 283.50,294.50 283.70,294.62 283.90,294.97 284.10,295.49 284.30,296.11 284.50,296.75 284.70,297.34 284.90,297.84 285.10,298.23 285.30,298.52 285.50,298.72 285.70,298.84 285.90,298.92 286.10,298.96 286.30,298.98" fill="none" stroke="#7070ee" stroke-width="0.6" opacity="0.85"/>
<polyline points="285.40,298.96 285.60,298.92 285.80,298.85 286.00,298.71 286.20,298.48 286.40,298.12 286.60,297.59 286.80,296.86 287.00,295.94 287.20,294.85 287.40,293.67 287.60,292.53 287.80,291.57 288.00,290.93 288.20,290.70 288.40,290.93 288.60,291.57 288.80,292.53 289.00,293.67 289.20,294.85 289.40,295.94 289.60,296.86 289.80,297.59 290.00,298.12 290.20,298.48 290.40,298.71 290.60,298.85 290.80,298.92 291.00,298.96" fill="none" stroke="#777777" stroke-width="0.6" opacity="0.85"/>
<polyline points="290.00,298.96 290.20,298.91 290.40,298.82 290.60,298.66 290.80,298.38 291.00,297.96 291.20,297.33 291.40,296.48 291.60,295.38 291.80,294.09 292.00,292.71 292.20,291.36 292.40,290.23 292.60,289.47 292.80,289.20 293.00,289.47 293.20,290.23 293.40,291.36 293.60,292.71 293.80,294.09 294.00,295.38 294.20,296.48 294.40,297.33 294.60,297.96 294.80,298.38 295.00,298.66 295.20,298.82 295.40,298.91 295.60,298.96" fill="none" stroke="#777777" stroke-width="0.6" opacity="0.85"/>
<polyline points="294.90,298.97 295.10,298.94 295.30,298.87 295.50,298.76 295.70,298.57 295.90,298.28 296.10,297.84 296.30,297.25 296.50,296.49 296.70,295.60 296.90,294.63 297.10,293.70 297.30,292.91 297.50,292.39 297.70,292.20 297.90,292.39 298.10,292.91 298.30,293.70 298.50,294.63 298.70,295.60 298.90,296.49 299.10,297.25 299.30,297.84 299.50,298.28 299.70,298.57 299.90,298.76 300.10,298.87 300.30,298.94 300.50,298.97" fill="none" stroke="#777777" stroke-width="0.6" opacity="0.85"/>
<polyline points="300.30,298.97 300.50,298.95 300.70,298.89 300.90,298.80 301.10,298.64 301.30,298.38 301.50,298.01 301.70,297.51 301.90,296.86 302.10,296.10 302.30,295.28 302.50,294.48 302.70,293.81 302.90,293.36 303.10,293.20 303.30,293.36 303.50,293.81 303.70,294.48 303.90,295.28 304.10,296.10 304.30,296.86 304.50,297.51 304.70,298.01 304.90,298.38 305.10,298.64 305.30,298.80 305.50,298.89 305.70,298.95 305.90,298.97" fill="none" stroke="#7070ee" stroke-width="0.6" opacity="0.85"/>
<polyline points="305.10,298.97 305.30,298.93 305.50,298.86 305.70,298.73 305.90,298.51 306.10,298.17 306.30,297.67 306.50,296.99 306.70,296.12 306.90,295.10 307.10,293.99 307.30,292.92 307.50,292.02 307.70,291.41 307.90,291.20 308.10,291.41 308.30,292.02 308.50,292.92 308.70,293.99 308.90,295.10 309.10,296.12 309.30,296.99 309.50,297.67 309.70,298.17 309.90,298.51 310.10,298.73 310.30,298.86 310.50,298.93 310.70,298.97" fill="none" stroke="#f05050" stroke-width="0.6" opacity="0.85"/>
<polyline points="309.60,298.96 309.80,298.91 310.00,298.82 310.20,298.66 310.40,298.39 310.60,297.97 310.80,297.35 311.00,296.50 311.20,295.42 311.40,294.14 311.60,292.77 311.80,291.44 312.00,290.32 312.20,289.56 312.40,289.30 312.60,289.56 312.80,290.32 313.00,291.44 313.20,292.77 313.40,294.14 313.60,295.42 313.80,296.50 314.00,297.35 314.20,297.97 314.40,298.39 314.60,298.66 314.80,298.82 315.00,298.91 315.20,298.96" fill="none" stroke="#7070ee" stroke-width="0.6" opacity="0.85"/>
<polyline points="313.90,298.97 314.10,298.93 314.30,298.86 314.50,298.73 314.70,298.52 314.90,298.18 315.10,297.69 315.30,297.02 315.50,296.16 315.70,295.15 315.90,294.06 316.10,293.00 316.30,292.11 316.50,291.51 316.70,291.30 316.90,291.51 317.10,292.11 317.30,293.00 317.50,294.06 317.70,295.15 317.90,296.16 318.10,297.02 318.30,297.69 318.50,298.18 318.70,298.52 318.90,298.73 319.10,298.86 319.30,298.93 319.50,298.97" fill="none" stroke="#7070ee" stroke-width="0.6" opacity="0.85"/>
<polyline points="317.90,298.97 318.10,298.94 318.30,298.88 318.50,298.77 318.70,298.59 318.90,298.30 319.10,297.88 319.30,297.30 319.50,296.56 319.70,295.70 319.90,294.76 320.10,293.86 320.30,293.09 320.50,292.58 320.70,292.40 320.90,292.58 321.10,293.09 321.30,293.86 321.50,294.76 321.70,295.70 321.90,296.56 322.10,297.30 322.30,297.88 322.50,298.30 322.70,298.59 322.90,298.77 323.10,298.88 323.30,298.94 323.50,298.97" fill="none" stroke="#777777" stroke-width="0.6" opacity="0.85"/>
<polyline points="323.20,298.97 323.40,298.95 323.60,298.89 323.80,298.80 324.00,298.64 324.20,298.38 324.40,298.01 324.60,297.51 324.80,296.86 325.00,296.10 325.20,295.28 325.40,294.48 325.60,293.81 325.80,293.36 326.00,293.20 326.20,293.36 326.40,293.81 326.60,294.48 326.80,295.28 327.00,296.10 327.20,296.86 327.40,297.51 327.60,298.01 327.80,298.38 328.00,298.64 328.20,298.80 328.40,298.89 328.60,298.95 328.80,298.97" fill="none" stroke="#7070ee" stroke-width="0.6" opacity="0.85"/>
<polyline points="327.80,298.98 328.00,298.95 328.20,298.91 328.40,298.82 328.60,298.69 328.80,298.47 329.00,298.15 329.20,297.71 329.40,297.15 329.60,296.50 329.80,295.79 330.00,295.10 330.20,294.52 330.40,294.14 330.60,294.00 330.80,294.14 331.00,294.52 331.20,295.10 331.40,295.79 331.60,296.50 331.80,297.15 332.00,297.71 332.20,298.15 332.40,298.47 332.60,298.69 332.80,298.82 333.00,298.91 333.20,298.95 333.40,298.98" fill="none" stroke="#777777" stroke-width="0.6" opacity="0.85"/>
<polyline points="333.10,298.94 333.30,298.88 333.50,298.76 333.70,298.55 333.90,298.20 334.10,297.64 334.30,296.82 334.50,295.70 334.70,294.27 334.90,292.59 335.10,290.78 335.30,289.02 335.50,287.54 335.70,286.55 335.90,286.20 336.10,286.55 336.30,287.54 336.50,289.02 336.70,290.78 336.90,292.59 337.10,294.27 337.30,295.70 337.50,296.82 337.70,297.64 337.90,298.20 338.10,298.55 338.30,298.76 338.50,298.88 338.70,298.94" fill="none" stroke="#3cba84" stroke-width="0.6" opacity="0.85"/>
<polyline points="336.60,298.98 336.80,298.96 337.00,298.92 337.20,298.84 337.40,298.72 337.60,298.52 337.80,298.23 338.00,297.84 338.20,297.34 338.40,296.75 338.60,296.11 338.80,295.49 339.00,294.97 339.20,294.62 339.40,294.50 339.60,294.62 339.80,294.97 340.00,295.49 340.20,296.11 340.40,296.75 340.60,297.34 340.80,297.84 341.00,298.23 341.20,298.52 341.40,298.72 341.60,298.84 341.80,298.92 342.00,298.96 342.20,298.98" fill="none" stroke="#777777" stroke-width="0.6" opacity="0.85"/>
<polyline points="341.50,298.97 341.70,298.94 341.90,298.89 342.10,298.79 342.30,298.62 342.50,298.35 342.70,297.96 342.90,297.43 343.10,296.75 343.30,295.95 343.50,295.08 343.70,294.25 343.90,293.54 344.10,293.07 344.30,292.90 344.50,293.07 344.70,293.54 344.90,294.25 345.10,295.08 345.30,295.95 345.50,296.75 345.70,297.43 345.90,297.96 346.10,298.35 346.30,298.62 346.50,298.79 346.70,298.89 346.90,298.94 347.10,298.97" fill="none" stroke="#7070ee" stroke-width="0.6" opacity="0.85"/>
<polyline points="345.90,298.97 346.10,298.94 346.30,298.89 346.50,298.79 346.70,298.62 346.90,298.35 347.10,297.96 347.30,297.43 347.50,296.75 347.70,295.95 347.90,295.08 348.10,294.25 348.30,293.54 348.50,293.07 348.70,292.90 348.90,293.07 349.10,293.54 349.30,294.25 349.50,295.08 349.70,295.95 349.90,296.75 350.10,297.43 350.30,297.96 350.50,298.35 350.70,298.62 350.90,298.79 351.10,298.89 351.30,298.94 351.50,298.97" fill="none" stroke="#3cba84" stroke-width="0.6" opacity="0.85"/>
<polyline points="350.50,298.96 350.70,298.92 350.90,298.84 351.10,298.69 351.30,298.45 351.50,298.07 351.70,297.50 351.90,296.73 352.10,295.75 352.30,294.60 352.50,293.35 352.70,292.14 352.90,291.12 353.10,290.44 353.30,290.20 353.50,290.44 353.70,291.12 353.90,292.14 354.10,293.35 354.30,294.60 354.50,295.75 354.70,296.73 354.90,297.50 355.10,298.07 355.30,298.45 355.50,298.69 355.70,298.84 355.90,298.92 356.10,298.96" fill="none" stroke="#f05050" stroke-width="0.6" opacity="0.85"/>
<polyline points="355.40,298.97 355.60,298.94 355.80,298.89 356.00,298.79 356.20,298.62 356.40,298.35 356.60,297.96 356.80,297.43 357.00,296.75 357.20,295.95 357.40,295.08 357.60,294.25 357.80,293.54 358.00,293.07 358.20,292.90 358.40,293.07 358.60,293.54 358.80,294.25 359.00,295.08 359.20,295.95 359.40,296.75 359.60,297.43 359.80,297.96 360.00,298.35 360.20,298.62 360.40,298.79 360.60,298.89 360.80,298.94 361.00,298.97" fill="none" stroke="#f05050" stroke-width="0.6" opacity="0.85"/>
<polyline points="360.20,298.97 360.40,298.95 360.60,298.89 360.80,298.80 361.00,298.64 361.20,298.39 361.40,298.03 361.60,297.53 361.80,296.90 362.00,296.15 362.20,295.34 362.40,294.56 362.60,293.90 362.80,293.46 363.00,293.30 363.20,293.46 363.40,293.90 363.60,294.56 363.80,295.34 364.00,296.15 364.20,296.90 364.40,297.53 364.60,298.03 364.80,298.39 365.00,298.64 365.20,298.80 365.40,298.89 365.60,298.95 365.80,298.97" fill="none" stroke="#f05050" stroke-width="0.6" opacity="0.85"/>
<polyline points="364.30,298.97 364.50,298.94 364.70,298.87 364.90,298.76 365.10,298.57 365.30,298.27 365.50,297.83 365.70,297.22 365.90,296.45 366.10,295.55 366.30,294.57 366.50,293.62 366.70,292.82 366.90,292.29 367.10,292.10 367.30,292.29 367.50,292.82 367.70,293.62 367.90,294.57 368.10,295.55 368.30,296.45 368.50,297.22 368.70,297.83 368.90,298.27 369.10,298.57 369.30,298.76 369.50,298.87 369.70,298.94 369.90,298.97" fill="none" stroke="#7070ee" stroke-width="0.6" opacity="0.85"/>
<line x1="273.80" y1="299.20" x2="370.20" y2="299.20" stroke="#a070c0" stroke-width="0.7" opacity="0.7"/>
<text x="247.50" y="354.30" font-family='"Liberation Serif", "Times New Roman", serif' font-size="13" text-anchor="middle" fill="#111">(<tspan font-weight="bold">c</tspan>)</text>
<line x1="105.70" y1="370.50" x2="105.70" y2="385.75" stroke="#9a9a9a" stroke-width="0.8" />
<line x1="105.70" y1="370.90" x2="119.00" y2="370.90" stroke="#9a9a9a" stroke-width="0.8" />
<line x1="105.70" y1="385.35" x2="119.00" y2="385.35" stroke="#9a9a9a" stroke-width="0.8" />
<line x1="92.30" y1="377.73" x2="92.30" y2="400.20" stroke="#9a9a9a" stroke-width="0.8" />
<line x1="92.30" y1="378.12" x2="105.70" y2="378.12" stroke="#9a9a9a" stroke-width="0.8" />
<line x1="92.30" y1="399.80" x2="119.00" y2="399.80" stroke="#9a9a9a" stroke-width="0.8" />
<line x1="78.40" y1="388.56" x2="78.40" y2="414.65" stroke="#9a9a9a" stroke-width="0.8" />
<line x1="78.40" y1="388.96" x2="92.30" y2="388.96" stroke="#9a9a9a" stroke-width="0.8" />
<line x1="78.40" y1="414.25" x2="119.00" y2="414.25" stroke="#9a9a9a" stroke-width="0.8" />
<line x1="105.70" y1="428.30" x2="105.70" y2="443.55" stroke="#9a9a9a" stroke-width="0.8" />
<line x1="105.70" y1="428.70" x2="119.00" y2="428.70" stroke="#9a9a9a" stroke-width="0.8" />
<line x1="105.70" y1="443.15" x2="119.00" y2="443.15" stroke="#9a9a9a" stroke-width="0.8" />
<line x1="64.50" y1="401.21" x2="64.50" y2="436.32" stroke="#9a9a9a" stroke-width="0.8" />
<line x1="64.50" y1="401.61" x2="78.40" y2="401.61" stroke="#9a9a9a" stroke-width="0.8" />
<line x1="64.50" y1="435.92" x2="105.70" y2="435.92" stroke="#9a9a9a" stroke-width="0.8" />
<line x1="50.40" y1="418.37" x2="50.40" y2="458.00" stroke="#9a9a9a" stroke-width="0.8" />
<line x1="50.40" y1="418.77" x2="64.50" y2="418.77" stroke="#9a9a9a" stroke-width="0.8" />
<line x1="50.40" y1="457.60" x2="119.00" y2="457.60" stroke="#9a9a9a" stroke-width="0.8" />
<line x1="36.70" y1="437.78" x2="36.70" y2="472.45" stroke="#9a9a9a" stroke-width="0.8" />
<line x1="36.70" y1="438.18" x2="50.40" y2="438.18" stroke="#9a9a9a" stroke-width="0.8" />
<line x1="36.70" y1="472.05" x2="119.00" y2="472.05" stroke="#9a9a9a" stroke-width="0.8" />
<line x1="105.70" y1="486.10" x2="105.70" y2="501.35" stroke="#9a9a9a" stroke-width="0.8" />
<line x1="105.70" y1="486.50" x2="119.00" y2="486.50" stroke="#9a9a9a" stroke-width="0.8" />
<line x1="105.70" y1="500.95" x2="119.00" y2="500.95" stroke="#9a9a9a" stroke-width="0.8" />
<line x1="23.20" y1="454.72" x2="23.20" y2="494.12" stroke="#9a9a9a" stroke-width="0.8" />
<line x1="23.20" y1="455.12" x2="36.70" y2="455.12" stroke="#9a9a9a" stroke-width="0.8" />
<line x1="23.20" y1="493.72" x2="105.70" y2="493.72" stroke="#9a9a9a" stroke-width="0.8" />
<line x1="9.50" y1="474.02" x2="9.50" y2="515.80" stroke="#9a9a9a" stroke-width="0.8" />
<line x1="9.50" y1="474.42" x2="23.20" y2="474.42" stroke="#9a9a9a" stroke-width="0.8" />
<line x1="9.50" y1="515.40" x2="119.00" y2="515.40" stroke="#9a9a9a" stroke-width="0.8" />
<text x="104.60" y="378.02" font-family='"Liberation Sans", Arial, sans-serif' font-size="4.8" font-weight="normal" font-style="normal" fill="#222" text-anchor="end" >84</text>
<text x="91.20" y="388.86" font-family='"Liberation Sans", Arial, sans-serif' font-size="4.8" font-weight="normal" font-style="normal" fill="#222" text-anchor="end" >70</text>
<text x="78.00" y="401.51" font-family='"Liberation Sans", Arial, sans-serif' font-size="4.8" font-weight="normal" font-style="normal" fill="#222" text-anchor="end" >100</text>
<text x="64.40" y="418.67" font-family='"Liberation Sans", Arial, sans-serif' font-size="4.8" font-weight="normal" font-style="normal" fill="#222" text-anchor="end" >100</text>
<text x="50.30" y="438.08" font-family='"Liberation Sans", Arial, sans-serif' font-size="4.8" font-weight="normal" font-style="normal" fill="#222" text-anchor="end" >100</text>
<text x="36.00" y="455.02" font-family='"Liberation Sans", Arial, sans-serif' font-size="4.8" font-weight="normal" font-style="normal" fill="#222" text-anchor="end" >93</text>
<text x="104.60" y="441.92" font-family='"Liberation Sans", Arial, sans-serif' font-size="4.8" font-weight="normal" font-style="normal" fill="#222" text-anchor="end" >97</text>
<text x="104.60" y="499.72" font-family='"Liberation Sans", Arial, sans-serif' font-size="4.8" font-weight="normal" font-style="normal" fill="#222" text-anchor="end" >54</text>
<text transform="translate(121.1,373.30) scale(0.845,1)" font-family='"Liberation Sans", Arial, sans-serif' font-size="5.8" fill="#1a1a1a" stroke="#1a1a1a" stroke-width="0.1"><tspan font-style="italic">Rattus norvegicus</tspan> CPSF1</text>
<text transform="translate(121.1,387.75) scale(0.845,1)" font-family='"Liberation Sans", Arial, sans-serif' font-size="5.8" fill="#1a1a1a" stroke="#1a1a1a" stroke-width="0.1"><tspan font-style="italic">Mus musculus</tspan> CPSF1 isoform 1</text>
<text transform="translate(121.1,402.20) scale(0.845,1)" font-family='"Liberation Sans", Arial, sans-serif' font-size="5.8" fill="#1a1a1a" stroke="#1a1a1a" stroke-width="0.1"><tspan font-style="italic">Mus musculus</tspan> CPSF1 isoform 2</text>
<text transform="translate(121.1,416.65) scale(0.845,1)" font-family='"Liberation Sans", Arial, sans-serif' font-size="5.8" fill="#1a1a1a" stroke="#1a1a1a" stroke-width="0.1"><tspan font-style="italic">Mus musculus</tspan> CPSF1 isoform 3</text>
<text transform="translate(121.1,431.10) scale(0.845,1)" font-family='"Liberation Sans", Arial, sans-serif' font-size="5.8" fill="#1a1a1a" stroke="#1a1a1a" stroke-width="0.1"><tspan font-style="italic">Homo sapiens</tspan> CPSF1</text>
<text transform="translate(121.1,445.55) scale(0.845,1)" font-family='"Liberation Sans", Arial, sans-serif' font-size="5.8" fill="#1a1a1a" stroke="#1a1a1a" stroke-width="0.1"><tspan font-style="italic">Macaca mulatta</tspan> CPSF1</text>
<text transform="translate(121.1,460.00) scale(0.845,1)" font-family='"Liberation Sans", Arial, sans-serif' font-size="5.8" fill="#1a1a1a" stroke="#1a1a1a" stroke-width="0.1"><tspan font-style="italic">Danio rerio</tspan> CPSF1</text>
<text transform="translate(121.1,474.45) scale(0.845,1)" font-family='"Liberation Sans", Arial, sans-serif' font-size="5.8" fill="#1a1a1a" stroke="#1a1a1a" stroke-width="0.1"><tspan font-style="italic">Caenorhabditis elegans</tspan> Y76B12C.7c.1</text>
<text transform="translate(121.1,488.90) scale(0.845,1)" font-family='"Liberation Sans", Arial, sans-serif' font-size="5.8" fill="#1a1a1a" stroke="#1a1a1a" stroke-width="0.1"><tspan font-style="italic">Caenorhabditis elegans</tspan> Y76B12C.7a.1</text>
<text transform="translate(121.1,503.35) scale(0.845,1)" font-family='"Liberation Sans", Arial, sans-serif' font-size="5.8" fill="#1a1a1a" stroke="#1a1a1a" stroke-width="0.1"><tspan font-style="italic">Caenorhabditis elegans</tspan> Y76B12C.7b.1</text>
<text transform="translate(121.1,517.80) scale(0.845,1)" font-family='"Liberation Sans", Arial, sans-serif' font-size="5.8" fill="#1a1a1a" stroke="#1a1a1a" stroke-width="0.1"><tspan font-style="italic">Caenorhabditis elegans</tspan> Y76B12C.7d.1</text>
<rect x="118.70" y="423.90" width="53.80" height="9.90" fill="none" stroke="#ee1111" stroke-width="1.3" />
<rect x="119.00" y="482.50" width="88.60" height="10.30" fill="none" stroke="#ee1111" stroke-width="1.3" />
<text x="109.50" y="544.20" font-family='"Liberation Serif", "Times New Roman", serif' font-size="13" text-anchor="middle" fill="#111">(<tspan font-weight="bold">d</tspan>)</text>
<rect x="310.90" y="397.30" width="12.60" height="51.20" fill="#000" stroke="none" stroke-width="0" />
<line x1="335.40" y1="402.93" x2="335.40" y2="401.91" stroke="#111" stroke-width="1.0" />
<line x1="333.20" y1="401.91" x2="337.60" y2="401.91" stroke="#111" stroke-width="1.0" />
<rect x="329.55" y="403.68" width="11.70" height="44.82" fill="#d8d8d8" stroke="#000" stroke-width="1.5" />
<line x1="354.15" y1="429.04" x2="354.15" y2="425.20" stroke="#111" stroke-width="1.0" />
<line x1="351.95" y1="425.20" x2="356.35" y2="425.20" stroke="#111" stroke-width="1.0" />
<rect x="348.55" y="429.79" width="11.20" height="18.71" fill="#7a7a7a" stroke="#000" stroke-width="1.5" />
<line x1="304.40" y1="371.20" x2="304.40" y2="449.10" stroke="#000" stroke-width="1.3" />
<line x1="301.10" y1="448.50" x2="304.40" y2="448.50" stroke="#000" stroke-width="1.2" />
<text x="299.60" y="450.80" font-family='"Liberation Sans", Arial, sans-serif' font-size="6.6" font-weight="bold" font-style="normal" fill="#000" text-anchor="end" stroke="#000" stroke-width="0.25" >0.0</text>
<line x1="301.10" y1="422.90" x2="304.40" y2="422.90" stroke="#000" stroke-width="1.2" />
<text x="299.60" y="425.20" font-family='"Liberation Sans", Arial, sans-serif' font-size="6.6" font-weight="bold" font-style="normal" fill="#000" text-anchor="end" stroke="#000" stroke-width="0.25" >0.5</text>
<line x1="301.10" y1="397.30" x2="304.40" y2="397.30" stroke="#000" stroke-width="1.2" />
<text x="299.60" y="399.60" font-family='"Liberation Sans", Arial, sans-serif' font-size="6.6" font-weight="bold" font-style="normal" fill="#000" text-anchor="end" stroke="#000" stroke-width="0.25" >1.0</text>
<line x1="301.10" y1="371.70" x2="304.40" y2="371.70" stroke="#000" stroke-width="1.2" />
<text x="299.60" y="374.00" font-family='"Liberation Sans", Arial, sans-serif' font-size="6.6" font-weight="bold" font-style="normal" fill="#000" text-anchor="end" stroke="#000" stroke-width="0.25" >1.5</text>
<line x1="303.80" y1="448.50" x2="367.30" y2="448.50" stroke="#000" stroke-width="1.3" />
<line x1="317.20" y1="448.50" x2="317.20" y2="451.10" stroke="#000" stroke-width="1.2" />
<g transform="translate(319.60,455.80) scale(1.12,1) rotate(-45)"><text x="0" y="0" font-family='"Liberation Sans", Arial, sans-serif' font-size="6.1" font-weight="bold" text-anchor="end" stroke="#000" stroke-width="0.2">OP50</text></g>
<line x1="335.40" y1="448.50" x2="335.40" y2="451.10" stroke="#000" stroke-width="1.2" />
<g transform="translate(337.80,455.80) scale(1.12,1) rotate(-45)"><text x="0" y="0" font-family='"Liberation Sans", Arial, sans-serif' font-size="6.1" font-weight="bold" text-anchor="end" stroke="#000" stroke-width="0.2">L4440</text></g>
<line x1="354.15" y1="448.50" x2="354.15" y2="451.10" stroke="#000" stroke-width="1.2" />
<g transform="translate(356.55,455.80) scale(1.12,1) rotate(-45)"><text x="0" y="0" font-family='"Liberation Sans", Arial, sans-serif' font-size="6.1" font-weight="bold" text-anchor="end" stroke="#000" stroke-width="0.2">circ-CPSF1-RNAi</text></g>
<line x1="316.70" y1="393.60" x2="354.00" y2="393.60" stroke="#111" stroke-width="1.3" />
<text x="335.30" y="395.20" font-family='"Liberation Sans", Arial, sans-serif' font-size="7.6" font-weight="bold" font-style="normal" fill="#111" text-anchor="middle" >****</text>
<line x1="335.80" y1="387.60" x2="354.00" y2="387.60" stroke="#111" stroke-width="1.3" />
<text x="345.00" y="388.20" font-family='"Liberation Sans", Arial, sans-serif' font-size="7.6" font-weight="bold" font-style="normal" fill="#111" text-anchor="middle" >***</text>
<text transform="translate(283.40,410.10) rotate(-90)" font-family='"Liberation Sans", Arial, sans-serif' font-size="6.7" text-anchor="middle" stroke="#000" stroke-width="0.15">Relative Gene Expression</text>
<text x="335.30" y="499.60" font-family='"Liberation Sans", Arial, sans-serif' font-size="7.5" font-weight="bold" font-style="normal" fill="#000" text-anchor="middle" stroke="#000" stroke-width="0.15" >circ-CPSF1</text>
<rect x="403.50" y="397.93" width="11.60" height="51.47" fill="#000" stroke="none" stroke-width="0" />
<line x1="428.15" y1="392.78" x2="428.15" y2="389.18" stroke="#111" stroke-width="1.0" />
<line x1="425.95" y1="389.18" x2="430.35" y2="389.18" stroke="#111" stroke-width="1.0" />
<rect x="422.85" y="393.53" width="10.60" height="55.87" fill="#d8d8d8" stroke="#000" stroke-width="1.5" />
<line x1="446.85" y1="434.47" x2="446.85" y2="432.41" stroke="#111" stroke-width="1.0" />
<line x1="444.65" y1="432.41" x2="449.05" y2="432.41" stroke="#111" stroke-width="1.0" />
<rect x="441.75" y="435.22" width="10.20" height="14.18" fill="#7a7a7a" stroke="#000" stroke-width="1.5" />
<line x1="396.70" y1="371.69" x2="396.70" y2="450.00" stroke="#000" stroke-width="1.3" />
<line x1="393.40" y1="449.40" x2="396.70" y2="449.40" stroke="#000" stroke-width="1.2" />
<text x="391.90" y="451.70" font-family='"Liberation Sans", Arial, sans-serif' font-size="6.6" font-weight="bold" font-style="normal" fill="#000" text-anchor="end" stroke="#000" stroke-width="0.25" >0.0</text>
<line x1="393.40" y1="423.66" x2="396.70" y2="423.66" stroke="#000" stroke-width="1.2" />
<text x="391.90" y="425.96" font-family='"Liberation Sans", Arial, sans-serif' font-size="6.6" font-weight="bold" font-style="normal" fill="#000" text-anchor="end" stroke="#000" stroke-width="0.25" >0.5</text>
<line x1="393.40" y1="397.93" x2="396.70" y2="397.93" stroke="#000" stroke-width="1.2" />
<text x="391.90" y="400.23" font-family='"Liberation Sans", Arial, sans-serif' font-size="6.6" font-weight="bold" font-style="normal" fill="#000" text-anchor="end" stroke="#000" stroke-width="0.25" >1.0</text>
<line x1="393.40" y1="372.19" x2="396.70" y2="372.19" stroke="#000" stroke-width="1.2" />
<text x="391.90" y="374.50" font-family='"Liberation Sans", Arial, sans-serif' font-size="6.6" font-weight="bold" font-style="normal" fill="#000" text-anchor="end" stroke="#000" stroke-width="0.25" >1.5</text>
<line x1="396.10" y1="449.40" x2="459.90" y2="449.40" stroke="#000" stroke-width="1.3" />
<line x1="409.30" y1="449.40" x2="409.30" y2="452.00" stroke="#000" stroke-width="1.2" />
<g transform="translate(411.70,456.70) scale(1.12,1) rotate(-45)"><text x="0" y="0" font-family='"Liberation Sans", Arial, sans-serif' font-size="6.1" font-weight="bold" text-anchor="end" stroke="#000" stroke-width="0.2">OP50</text></g>
<line x1="428.15" y1="449.40" x2="428.15" y2="452.00" stroke="#000" stroke-width="1.2" />
<g transform="translate(430.55,456.70) scale(1.12,1) rotate(-45)"><text x="0" y="0" font-family='"Liberation Sans", Arial, sans-serif' font-size="6.1" font-weight="bold" text-anchor="end" stroke="#000" stroke-width="0.2">L4440</text></g>
<line x1="446.85" y1="449.40" x2="446.85" y2="452.00" stroke="#000" stroke-width="1.2" />
<g transform="translate(449.25,456.70) scale(1.12,1) rotate(-45)"><text x="0" y="0" font-family='"Liberation Sans", Arial, sans-serif' font-size="6.1" font-weight="bold" text-anchor="end" stroke="#000" stroke-width="0.2">circ-DYN1-RNAi</text></g>
<line x1="409.50" y1="385.70" x2="446.80" y2="385.70" stroke="#777" stroke-width="1.3" />
<text x="427.60" y="387.30" font-family='"Liberation Sans", Arial, sans-serif' font-size="7.6" font-weight="bold" font-style="normal" fill="#777" text-anchor="middle" >****</text>
<line x1="428.40" y1="379.50" x2="446.80" y2="379.50" stroke="#111" stroke-width="1.3" />
<text x="437.30" y="381.10" font-family='"Liberation Sans", Arial, sans-serif' font-size="7.6" font-weight="bold" font-style="normal" fill="#111" text-anchor="middle" >***</text>
<text transform="translate(376.20,410.80) rotate(-90)" font-family='"Liberation Sans", Arial, sans-serif' font-size="6.7" text-anchor="middle" stroke="#000" stroke-width="0.15">Relative Gene Expression</text>
<text x="427.40" y="497.70" font-family='"Liberation Sans", Arial, sans-serif' font-size="7.5" font-weight="bold" font-style="normal" fill="#000" text-anchor="middle" stroke="#000" stroke-width="0.15" >circ-DYN1</text>
<text x="377.30" y="544.20" font-family='"Liberation Serif", "Times New Roman", serif' font-size="13" text-anchor="middle" fill="#111">(<tspan font-weight="bold">e</tspan>)</text>
</svg></body></html>
